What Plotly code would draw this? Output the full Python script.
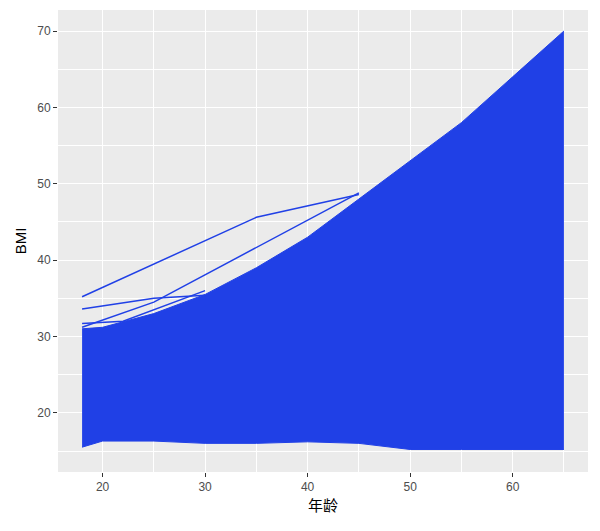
import plotly.graph_objects as go

age = [18, 20, 25, 30, 35, 40, 45, 50, 55, 60, 65]
bmi_upper = [31.0, 31.2, 33.0, 35.5, 39.0, 43.0, 48.0, 53.0, 58.0, 64.0, 70.0]
bmi_lower = [15.5, 16.3, 16.3, 16.0, 16.0, 16.2, 16.0, 15.2, 15.2, 15.2, 15.2]

outliers = [
    ([18, 35, 45], [35.2, 45.6, 48.6]),
    ([18, 25, 30], [33.6, 35.0, 35.4]),
    ([18, 22, 30], [31.7, 32.0, 36.0]),
    ([18, 25, 45], [31.2, 34.5, 48.8]),
]
color = "#2040E6"

fig = go.Figure()
fig.add_trace(go.Scatter(x=age, y=bmi_lower, mode="lines", line=dict(color=color, width=1), showlegend=False))
fig.add_trace(go.Scatter(x=age, y=bmi_upper, mode="lines", fill="tonexty", fillcolor=color,
                         line=dict(color=color, width=1), showlegend=False))
for xs, ys in outliers:
    fig.add_trace(go.Scatter(x=xs, y=ys, mode="lines", line=dict(color=color, width=1.5), showlegend=False))

axis_common = dict(showgrid=True, gridcolor="white", gridwidth=1.3, zeroline=False,
                   ticks="outside", ticklen=4, tickcolor="#333333",
                   tickfont=dict(family="Liberation Sans", size=12, color="#4D4D4D"),
                   minor=dict(showgrid=True, gridcolor="white", gridwidth=0.6))
fig.update_xaxes(range=[15.65, 67.35], tickvals=[20, 30, 40, 50, 60],
                 minor_tickvals=[15, 25, 35, 45, 55, 65],
                 title=dict(text="年龄", font=dict(family="Noto Sans CJK SC", size=15, color="black"), standoff=6),
                 **axis_common)
fig.update_yaxes(range=[12.25, 72.75], tickvals=[20, 30, 40, 50, 60, 70],
                 minor_tickvals=[15, 25, 35, 45, 55, 65],
                 title=dict(text="BMI", font=dict(family="Liberation Sans", size=15, color="black"), standoff=6),
                 **axis_common)
fig.update_layout(width=600, height=531, plot_bgcolor="#EBEBEB", paper_bgcolor="white",
                  margin=dict(l=50, r=20, t=2, b=67, autoexpand=False))
fig.write_html("out.html")
